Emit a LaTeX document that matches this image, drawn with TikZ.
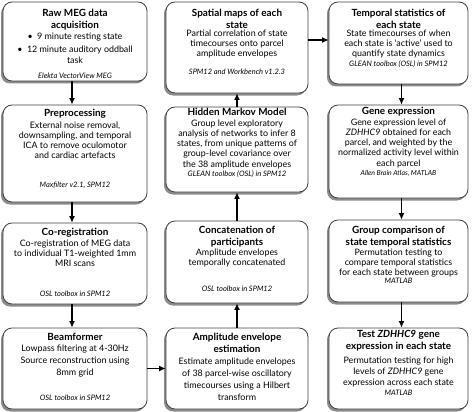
\documentclass[tikz,border=0pt]{standalone}
\usepackage{fontspec}
\setmainfont{Lato}
\usetikzlibrary{arrows.meta,shadows}
\begin{document}
\begin{tikzpicture}[x=1pt,y=-1pt,
  box/.style={draw=black!75, line width=0.8pt, rounded corners=9pt, fill=white,
    drop shadow={shadow xshift=-2pt, shadow yshift=-2.5pt, fill=black!45, opacity=1},
    inner sep=0, minimum height=#1},
  colA/.style={minimum width=144pt},
  colB/.style={minimum width=142pt},
  colC/.style={minimum width=139pt},
  ttl/.style={font=\bfseries\fontsize{9.9}{11.5}\selectfont, align=center, inner sep=0, anchor=north},
  bdy/.style={font=\fontsize{8.9}{10.2}\selectfont, align=center, inner sep=0, anchor=north},
  tool/.style={font=\itshape\fontsize{7.5}{9}\selectfont, inner sep=0, anchor=north},
  arr/.style={-{Latex[length=6.5pt,width=6pt]}, line width=1.4pt},
]
\useasboundingbox (0,0) rectangle (474,412);

% ---------- boxes ----------
\node[box=79pt, colA] (raw) at (75,41.5) {};
\node[box=91pt, colB] (spa) at (237,47.5) {};
\node[box=82pt, colC] (tem) at (398.5,43) {};
\node[box=97pt, colA] (pre) at (75,153.5) {};
\node[box=85pt, colB] (hmm) at (237,149.5) {};
\node[box=93pt, colC] (gen) at (398.5,151.5) {};
\node[box=81pt, colA] (cor) at (75,263.5) {};
\node[box=82pt, colB] (con) at (237,262) {};
\node[box=82pt, colC] (grp) at (398.5,261) {};
\node[box=81pt, colA] (bea) at (75,368.5) {};
\node[box=81pt, colB] (amp) at (237,368.5) {};
\node[box=81pt, colC] (tst) at (398.5,368.5) {};

% ---------- texts ----------
% Raw MEG
\node[ttl] (rawT) at (75,9.2) {Raw MEG data\\acquisition};
\node[bdy] (rawB1) at (75,32.6) {\textbullet\enspace 9 minute resting state};
\node[bdy] (rawB2) at (75,46.2) {\textbullet\enspace 12 minute auditory oddball\\task};
\node[tool] (rawI) at (75,72.8) {Elekta VectorView MEG};
% Spatial maps
\node[ttl] (spaT) at (237,9.2) {Spatial maps of each\\state};
\node[bdy] (spaB) at (237,29.6) {Partial correlation of state\\timecourses onto parcel\\amplitude envelopes};
\node[tool] (spaI) at (237,68.3) {SPM12 and Workbench v1.2.3};
% Temporal statistics
\node[ttl] (temT) at (398.5,9.2) {Temporal statistics of\\each state};
\node[bdy] (temB) at (398.5,29.6) {State timecourses of when\\each state is `active' used to\\quantify state dynamics};
\node[tool] (temI) at (398.5,60.3) {GLEAN toolbox (OSL) in SPM12};
% Preprocessing
\node[ttl] (preT) at (75,109.2) {Preprocessing};
\node[bdy] (preB) at (75,121.6) {External noise removal,\\downsampling, and temporal\\ICA to remove oculomotor\\and cardiac artefacts};
\node[tool] (preI) at (75,181.3) {Maxfilter v2.1, SPM12};
% HMM
\node[ttl] (hmmT) at (237,108.2) {Hidden Markov Model};
\node[bdy] (hmmB) at (237,119.6) {Group level exploratory\\analysis of networks to infer 8\\states, from unique patterns of\\group-level covariance over\\the 38 amplitude envelopes};
\node[tool] (hmmI) at (237,170.3) {GLEAN toolbox (OSL) in SPM12};
% Gene expression
\node[ttl] (genT) at (398.5,107.2) {Gene expression};
\node[bdy] (genB) at (398.5,118.6) {Gene expression level of\\\textit{ZDHHC9} obtained for each\\parcel, and weighted by the\\normalized activity level within\\each parcel};
\node[tool, font=\itshape\fontsize{6.9}{8}\selectfont] (genI) at (398.5,170.5) {Allen Brain Atlas, MATLAB};
% Co-registration
\node[ttl] (corT) at (75,228.2) {Co-registration};
\node[bdy] (corB) at (75,239.6) {Co-registration of MEG data\\to individual T1-weighted 1mm\\MRI scans};
\node[tool] (corI) at (75,290.3) {OSL toolbox in SPM12};
% Concatenation
\node[ttl] (conT) at (237,226.2) {Concatenation of\\participants};
\node[bdy] (conB) at (237,248.6) {Amplitude envelopes\\temporally concatenated};
\node[tool] (conI) at (237,285.3) {OSL toolbox in SPM12};
% Group comparison
\node[ttl] (grpT) at (398.5,226.2) {Group comparison of\\state temporal statistics};
\node[bdy] (grpB) at (398.5,248.6) {Permutation testing to\\compare temporal statistics\\for each state between groups};
\node[tool] (grpI) at (398.5,278.3) {MATLAB};
% Beamformer
\node[ttl] (beaT) at (75,333.2) {Beamformer};
\node[bdy, font=\fontsize{8.9}{12}\selectfont] (beaB) at (75,344.6) {Lowpass filtering at 4-30Hz\\Source reconstruction using\\8mm grid};
\node[tool] (beaI) at (75,394.3) {OSL toolbox in SPM12};
% Amplitude envelope
\node[ttl, font=\bfseries\fontsize{9.9}{12}\selectfont] (ampT) at (237,333.2) {Amplitude envelope\\estimation};
\node[bdy, font=\fontsize{8.9}{12.2}\selectfont] (ampB) at (237,357.6) {Estimate amplitude envelopes\\of 38 parcel-wise oscillatory\\timecourses using a Hilbert\\transform};
% Test ZDHHC9
\node[ttl, font=\bfseries\fontsize{9.9}{12}\selectfont] (tstT) at (398.5,330.2) {Test \textit{ZDHHC9} gene\\expression in each state};
\node[bdy, font=\fontsize{8.9}{11}\selectfont] (tstB) at (398.5,356.6) {Permutation testing for high\\levels of \textit{ZDHHC9} gene\\expression across each state};
\node[tool] (tstI) at (398.5,390.3) {MATLAB};

% ---------- connectors ----------
\draw[arr] ([xshift=-3pt]raw.south) -- ([xshift=-3pt]pre.north);
\draw[arr] ([xshift=-3pt]pre.south) -- ([xshift=-3pt]cor.north);
\draw[arr] ([xshift=-3pt]cor.south) -- ([xshift=-3pt]bea.north);
\draw[arr] (bea.east) -- (amp.west);
\draw[arr] (amp.north) -- (con.south);
\draw[arr] (con.north) -- (hmm.south);
\draw[arr] (hmm.north) -- (spa.south);
\draw[arr] ([yshift=7.5pt]spa.east) -- ([yshift=7.5pt]spa.east -| tem.west);
\draw[arr] ([xshift=3pt]tem.south) -- ([xshift=3pt]gen.north);
\draw[arr] ([xshift=3pt]gen.south) -- ([xshift=3pt]grp.north);
\draw[arr] ([xshift=3pt]grp.south) -- ([xshift=3pt]tst.north);
\end{tikzpicture}
\end{document}
